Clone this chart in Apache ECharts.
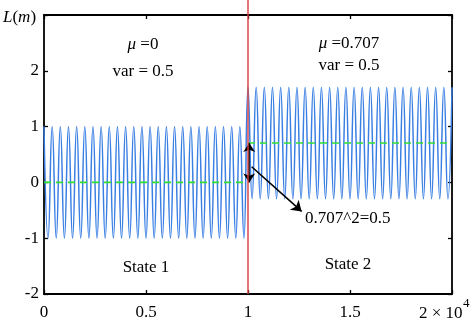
<!DOCTYPE html>
<html>
<head>
<meta charset="utf-8">
<script src="https://cdn.jsdelivr.net/npm/echarts@6/dist/echarts.min.js"></script>
<style>
  html, body { margin: 0; padding: 0; background: #fff; }
  #chart { width: 474px; height: 324px; }
</style>
</head>
<body>
<div id="chart"></div>
<script>
// Peaks and troughs of L(m), one every half period (200 samples)
const halfStep = 200;
const state1Extremes = [
  1, -1, 1, -1, 1, -1, 1, -1, 1, -1,
  1, -1, 1, -1, 1, -1, 1, -1, 1, -1,
  1, -1, 1, -1, 1, -1, 1, -1, 1, -1,
  1, -1, 1, -1, 1, -1, 1, -1, 1, -1,
  1, -1, 1, -1, 1, -1, 1, -1, 1, -1
];
const state2Extremes = [
  1.707, -0.293, 1.707, -0.293, 1.707, -0.293, 1.707, -0.293, 1.707, -0.293,
  1.707, -0.293, 1.707, -0.293, 1.707, -0.293, 1.707, -0.293, 1.707, -0.293,
  1.707, -0.293, 1.707, -0.293, 1.707, -0.293, 1.707, -0.293, 1.707, -0.293,
  1.707, -0.293, 1.707, -0.293, 1.707, -0.293, 1.707, -0.293, 1.707, -0.293,
  1.707, -0.293, 1.707, -0.293, 1.707, -0.293, 1.707, -0.293, 1.707, -0.293,
  1.707
];
const switchPoint = 10000;
const xEnd = 20000;
const mean1 = 0;
const mean2 = 0.707;
const xTickLabels = ['0', '0.5', '1', '1.5'];
const yTickLabels = ['-2', '-1', '0', '1', '2'];

const serif = "'Liberation Serif', 'Times New Roman', serif";

const waveData = [];
state1Extremes.forEach((v, i) => waveData.push([i * halfStep, v]));
state2Extremes.forEach((v, i) => waveData.push([switchPoint + i * halfStep, v]));

const chart = echarts.init(document.getElementById('chart'), null, { renderer: 'canvas' });

const tickStyle = { show: true, inside: true, length: 4, lineStyle: { color: '#000', width: 1.3 } };
const lineStyleAxis = { show: true, onZero: false, lineStyle: { color: '#000', width: 1.8 } };

chart.setOption({
  animation: false,
  backgroundColor: '#fff',
  grid: { left: 44, right: 22, top: 15, bottom: 30 },
  xAxis: [
    {
      type: 'value', min: 0, max: xEnd, interval: 5000,
      axisLine: lineStyleAxis, axisTick: tickStyle, splitLine: { show: false },
      axisLabel: {
        color: '#000', fontFamily: serif, fontSize: 17, margin: 10,
        formatter: v => { const i = Math.round(v / 5000); return i < xTickLabels.length ? xTickLabels[i] : ''; }
      }
    },
    {
      type: 'value', position: 'top', min: 0, max: xEnd, interval: 5000,
      axisLine: lineStyleAxis, axisTick: tickStyle, axisLabel: { show: false }, splitLine: { show: false }
    }
  ],
  yAxis: [
    {
      type: 'value', min: -2, max: 3, interval: 1,
      axisLine: lineStyleAxis, axisTick: tickStyle, splitLine: { show: false },
      axisLabel: {
        color: '#000', fontFamily: serif, fontSize: 17, margin: 5,
        formatter: v => { const i = Math.round(v + 2); return i < yTickLabels.length ? yTickLabels[i] : ''; }
      }
    },
    {
      type: 'value', position: 'right', min: -2, max: 3, interval: 1,
      axisLine: lineStyleAxis, axisTick: tickStyle, axisLabel: { show: false }, splitLine: { show: false }
    }
  ],
  series: [
    {
      name: 'L(m)', type: 'line', data: waveData, smooth: 0.5, showSymbol: false,
      lineStyle: { color: '#3a7fe3', width: 1.5 }, z: 2,
      markLine: {
        silent: true, animation: false, label: { show: false },
        data: [
          [
            { coord: [switchPoint + 60, mean1], symbol: 'arrow', symbolSize: 9 },
            { coord: [switchPoint + 60, mean2], symbol: 'arrow', symbolSize: 9 }
          ],
          [
            { coord: [10180, 0.28], symbol: 'none' },
            { coord: [12630, -0.52], symbol: 'arrow', symbolSize: 10 }
          ]
        ],
        lineStyle: { color: '#000', width: 1.6, type: 'solid' }
      }
    },
    {
      name: 'mean 1', type: 'line', data: [[0, mean1], [switchPoint, mean1]], showSymbol: false,
      lineStyle: { color: '#33dd33', width: 1.6, type: [7, 5] }, z: 3
    },
    {
      name: 'mean 2', type: 'line', data: [[switchPoint, mean2], [xEnd, mean2]], showSymbol: false,
      lineStyle: { color: '#33dd33', width: 1.6, type: [7, 5] }, z: 3
    }
  ]
});

// Boundary between the two states, drawn from the axis scale and running past the top of the box
const xs = chart.convertToPixel({ xAxisIndex: 0 }, switchPoint);
const yBottom = chart.convertToPixel({ yAxisIndex: 0 }, -2);

const txt = (x, y, text, extra) => Object.assign({
  type: 'text', x, y, silent: true, z: 10,
  style: Object.assign({ text, fill: '#000', font: '17px ' + serif, align: 'center', verticalAlign: 'middle' }, extra || {})
});

const richStyle = {
  i: { fontFamily: serif, fontStyle: 'italic', fontSize: 17, fill: '#000' },
  n: { fontFamily: serif, fontSize: 17, fill: '#000' }
};

chart.setOption({
  graphic: [
    {
      type: 'line', silent: true, z: 20,
      shape: { x1: xs, y1: 0, x2: xs, y2: yBottom },
      style: { stroke: '#d83c3c', lineWidth: 1.4 }
    },
    txt(3, 18, '{i|L}{n|(}{i|m}{n|)}', { align: 'left', rich: richStyle }),
    txt(143, 45, '{i|μ} {n|=0}', { rich: richStyle }),
    txt(143, 72, 'var = 0.5'),
    txt(349, 44, '{i|μ} {n|=0.707}', { rich: richStyle }),
    txt(349, 66, 'var = 0.5'),
    txt(305, 219, '0.707^2=0.5', { align: 'left' }),
    txt(146, 268, 'State 1'),
    txt(348, 265, 'State 2'),
    txt(419, 314, '2 × 10', { align: 'left' }),
    txt(463, 304, '4', { align: 'left', font: '13px ' + serif })
  ]
});
</script>
</body>
</html>
